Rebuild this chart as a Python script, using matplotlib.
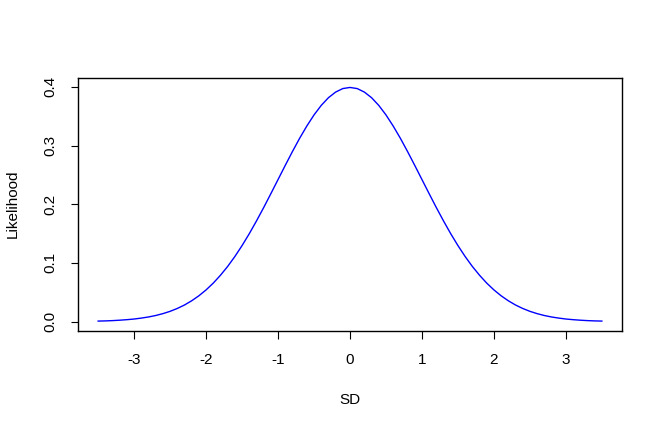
import matplotlib
matplotlib.use("Agg")
import matplotlib.pyplot as plt

plt.rcParams['font.family'] = ['Liberation Sans', 'DejaVu Sans']

# SD values and likelihood (step 0.1)
sd = [round(-3.5 + 0.1 * i, 1) for i in range(71)]
half = [0.3989, 0.3970, 0.3910, 0.3814, 0.3683, 0.3521, 0.3332, 0.3123, 0.2897, 0.2661,
        0.2420, 0.2179, 0.1942, 0.1714, 0.1497, 0.1295, 0.1109, 0.0940, 0.0790, 0.0656,
        0.0540, 0.0440, 0.0355, 0.0283, 0.0224, 0.0175, 0.0136, 0.0104, 0.0079, 0.0060,
        0.0044, 0.0033, 0.0024, 0.0017, 0.0012, 0.0009]
likelihood = half[:0:-1] + half
x_ticks = [-3, -2, -1, 0, 1, 2, 3]
y_ticks = [0.0, 0.1, 0.2, 0.3, 0.4]
x_ticklabels = ["-3", "-2", "-1", "0", "1", "2", "3"]
y_ticklabels = ["0.0", "0.1", "0.2", "0.3", "0.4"]

fig = plt.figure(figsize=(6.63, 4.29), dpi=100)
ax = fig.add_axes([78/663, 1 - 331/429, 544/663, 253/429])
ax.plot(sd, likelihood, color='blue', linewidth=1.0)
ax.set_xlim(-3.78, 3.78)
ax.set_ylim(-0.016, 0.415)
ax.set_xticks(x_ticks)
ax.set_xticklabels(x_ticklabels, va='center')
ax.set_yticks(y_ticks)
ax.set_yticklabels(y_ticklabels, rotation=90, va='center', ha='center')
for s in ax.spines.values():
    s.set_linewidth(1.0)
    s.set_color('black')
ax.tick_params(axis='both', length=5.4, width=0.8, labelsize=11, colors='black')
ax.tick_params(axis='x', pad=15.8)
ax.tick_params(axis='y', pad=14.4)
fig.text(350/663, 1 - 400/429, "SD", ha='center', va='center', fontsize=11)
fig.text(13/663, 1 - 204/429, "Likelihood", ha='center', va='center', fontsize=11, rotation=90)
fig.savefig("out.png", dpi=100)
